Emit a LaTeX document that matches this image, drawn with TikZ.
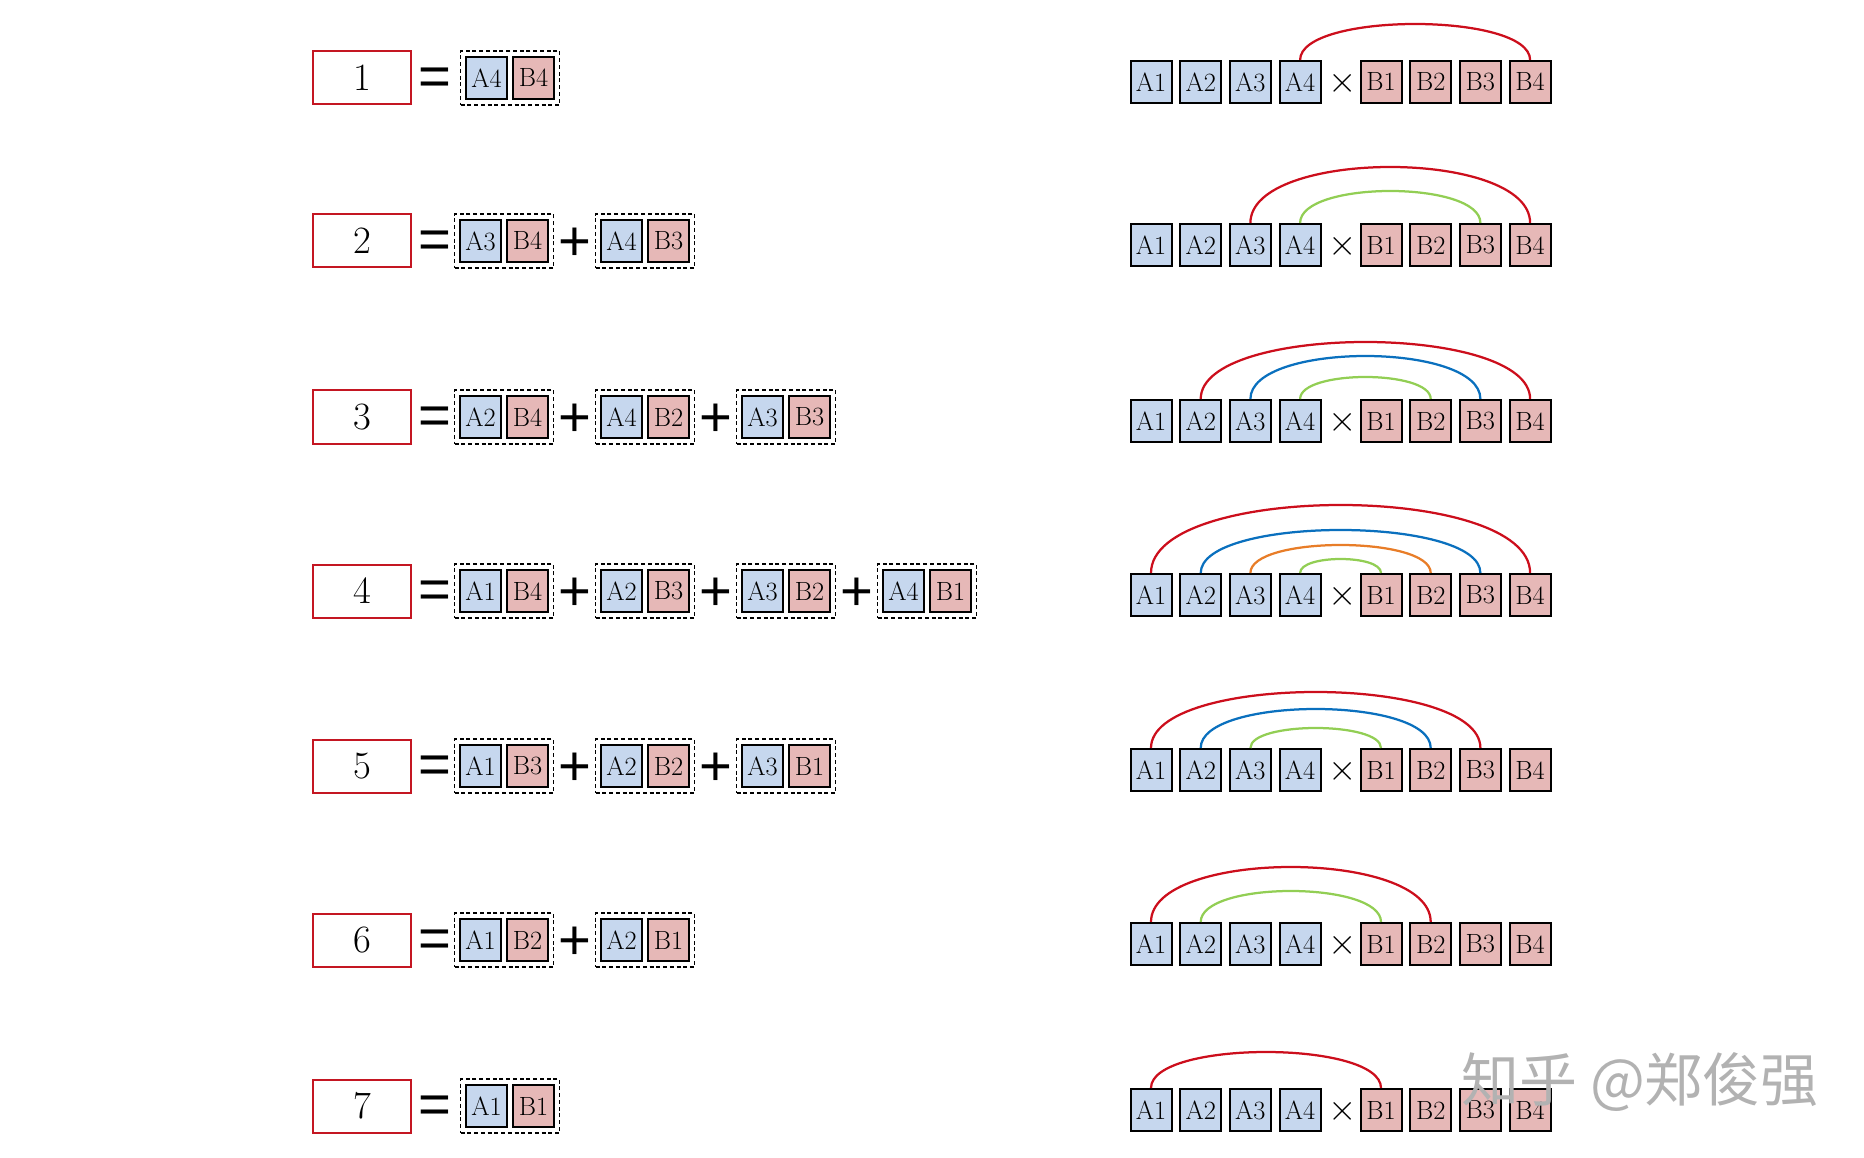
\documentclass[tikz,border=0pt]{standalone}
\usepackage{fontspec}
\newfontfamily\wmfont{Noto Sans CJK SC}
\newfontfamily\signfont{Liberation Sans}
\definecolor{fillA}{RGB}{198,215,238}
\definecolor{fillB}{RGB}{230,184,183}
\definecolor{boxred}{RGB}{196,22,34}
\definecolor{arcred}{RGB}{204,14,28}
\definecolor{arcblue}{RGB}{10,112,190}
\definecolor{arcorange}{RGB}{232,125,40}
\definecolor{arcgreen}{RGB}{146,206,84}
\tikzset{
  cell/.style={draw,line width=.4mm,minimum width=8.2mm,minimum height=8.4mm,inner sep=0pt,font=\fontsize{15}{17}\selectfont},
  acell/.style={cell,fill=fillA},
  bcell/.style={cell,fill=fillB},
  numbox/.style={draw=boxred,line width=.4mm,minimum width=19.6mm,minimum height=10.6mm,inner sep=0pt,font=\fontsize{22}{26}\selectfont},
  pairbox/.style={draw,line width=.35mm,dash pattern=on .8mm off .55mm,minimum width=19.8mm,minimum height=10.8mm,inner sep=0pt},
  sign/.style={inner sep=0pt,font=\signfont\fontsize{32}{36}\selectfont},
  link/.style={line width=.45mm}
}
\begin{document}
\begin{tikzpicture}[x=.2mm,y=-.2mm]
\useasboundingbox (0,0) rectangle (1864,1158);
% left: number = sum of pairs
\foreach \r/\y/\x/\pairs in {1/78/510/{4/4},2/241/504/{3/4,4/3},3/417/504/{2/4,4/2,3/3},4/591/504/{1/4,2/3,3/2,4/1},5/766/504/{1/3,2/2,3/1},6/940/504/{1/2,2/1},7/1106/510/{1/1}}{
  \node[numbox] (N\r) at (362,\y) {\r};
  \node[sign] (E\r) at (435,\y+4) {=};
  \foreach \a/\b [count=\k] in \pairs {
    \node[pairbox] (G\r-\k) at ({\x+141*(\k-1)},\y) {};
    \node[acell] (P\r-\k) at ([xshift=-4.7mm]G\r-\k.center) {A\a};
    \node[bcell] (Q\r-\k) at ([xshift=4.7mm]G\r-\k.center) {B\b};
    \ifnum\k>1 \node[sign] (S\r-\k) at ({\x+141*(\k-1)-70.5},\y+3) {+};\fi
  }
}
% right: A1..A4 x B1..B4
\foreach \r/\y in {1/82,2/245,3/421,4/595,5/770,6/944,7/1110}{
  \foreach \i in {1,...,4}{
    \node[acell] (A\i-\r) at ({1151+49.7*(\i-1)},\y) {A\i};
    \node[bcell] (B\i-\r) at ({1381+49.7*(\i-1)},\y) {B\i};
  }
  \node[inner sep=0pt,font=\fontsize{22}{24}\selectfont] (X\r) at (1343,\y+1) {$\times$};
}
% links
\foreach \r/\i/\j/\c/\h in {1/4/4/arcred/36,
    2/3/4/arcred/56,2/4/3/arcgreen/32,
    3/2/4/arcred/57,3/3/3/arcblue/43,3/4/2/arcgreen/22,
    4/1/4/arcred/68,4/2/3/arcblue/43,4/3/2/arcorange/28,4/4/1/arcgreen/14,
    5/1/3/arcred/56,5/2/2/arcblue/39,5/3/1/arcgreen/20,
    6/1/2/arcred/55,6/2/1/arcgreen/31,
    7/1/1/arcred/36}
  \draw[link,\c] (A\i-\r.north) .. controls +(0,{-\h*4/3}) and +(0,{-\h*4/3}) .. (B\j-\r.north);
\node[text=black!30,font=\wmfont\fontsize{33}{36}\selectfont] (W) at (1640,1082) {知乎 @郑俊强};
\end{tikzpicture}
\end{document}
